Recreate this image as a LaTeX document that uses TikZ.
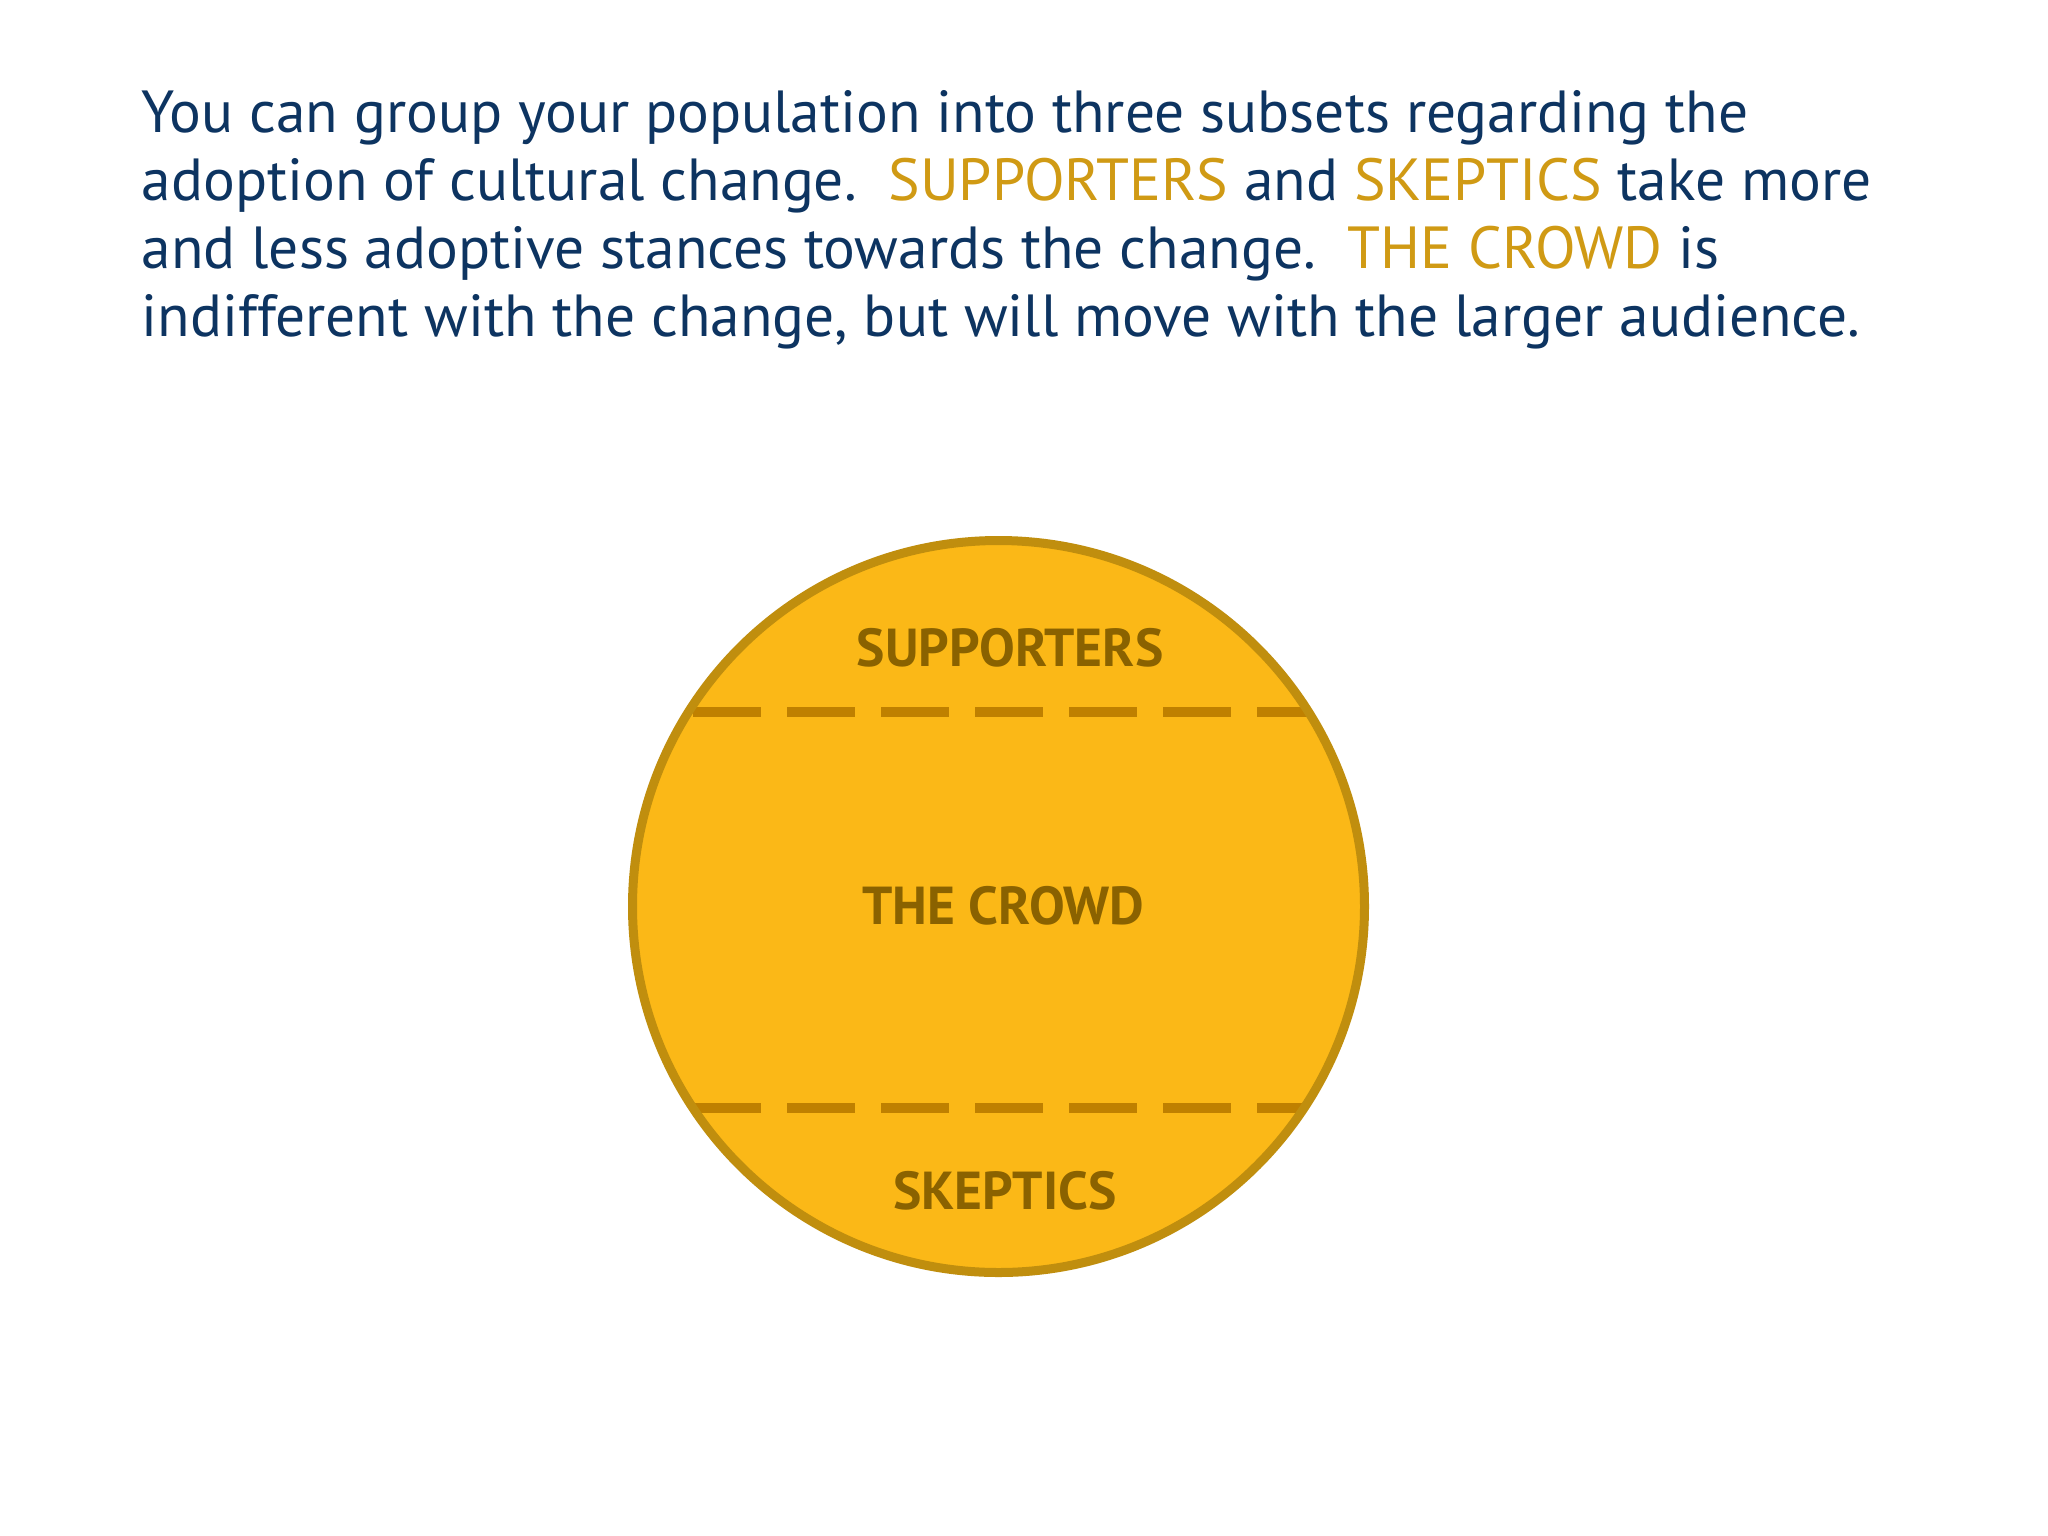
\documentclass[tikz,border=0pt]{standalone}
\usepackage{fontspec}
\setmainfont{PT Sans}
\definecolor{navy}{HTML}{0D3461}
\definecolor{goldtxt}{HTML}{D09A14}
\definecolor{discfill}{HTML}{FBB817}
\definecolor{discline}{HTML}{C08E0E}
\definecolor{dashcol}{HTML}{BF8000}
\definecolor{labcol}{HTML}{8A6200}
\tikzset{
  bodytext/.style={anchor=base west, inner sep=0pt, text=navy, font=\fontsize{16.9}{20}\selectfont},
  disclabel/.style={inner sep=0pt, text=labcol, font=\bfseries\fontsize{15.2}{18}\selectfont},
  divider/.style={draw=dashcol, line width=0.1cm, dash pattern=on 0.68cm off 0.26cm}
}
\newcommand{\hl}[1]{\textcolor{goldtxt}{#1}}
\begin{document}
\begin{tikzpicture}[x=0.01cm, y=-0.01cm]
\useasboundingbox (0,0) rectangle (2048,1536);
\fill[white] (0,0) rectangle (2048,1536);
\node[bodytext] (l1) at (141,132) {You can group your population into three subsets regarding the};
\node[bodytext] (l2) at (141,200) {adoption of cultural change.\ \ \hl{SUPPORTERS} and \hl{SKEPTICS} take more};
\node[bodytext] (l3) at (141,268) {and less adoptive stances towards the change.\ \ \hl{THE CROWD} is};
\node[bodytext] (l4) at (141,336) {indifferent with the change, but will move with the larger audience.};
\coordinate (c) at (998.5,906.5);
\fill[discfill] (c) circle[radius=366];
\begin{scope}
\clip (c) circle[radius=364];
\draw[divider] (693,712) -- (1320,712);
\draw[divider] (693,1108) -- (1320,1108);
\end{scope}
\draw[discline, line width=0.09cm] (c) circle[radius=366];
\node[disclabel] (sup) at (1010,648) {SUPPORTERS};
\node[disclabel] (crowd) at (1003,906) {THE CROWD};
\node[disclabel] (skep) at (1005,1191) {SKEPTICS};
\end{tikzpicture}
\end{document}
